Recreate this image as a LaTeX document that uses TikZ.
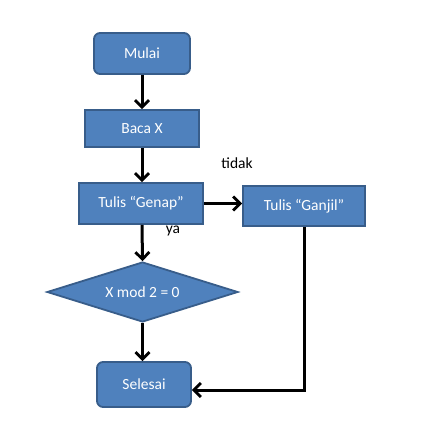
\documentclass[tikz,border=0pt]{standalone}
\usepackage{fontspec}
\setmainfont{Carlito}
\usetikzlibrary{shapes.geometric,arrows.meta}
\definecolor{boxfill}{HTML}{4F81BD}
\definecolor{boxline}{HTML}{385D8A}
\begin{document}
\begin{tikzpicture}[x=1pt,y=-1pt,
  base/.style={fill=boxfill,draw=boxline,line width=1.8pt,text=white,font=\fontsize{15.5}{18}\selectfont,inner sep=0pt},
  procbox/.style={base,rectangle,minimum width=#1},
  termbox/.style={base,rectangle,rounded corners=6pt},
  decbox/.style={base,diamond,aspect=3.2,minimum width=191pt,minimum height=60pt},
  flow/.style={line width=3pt,-{Straight Barb[length=7pt,width=14pt,line width=2.8pt]}},
  lbl/.style={font=\fontsize{15.5}{18}\selectfont,text=black}]
\useasboundingbox[fill=white] (0,0) rectangle (420,441);
\node[termbox,minimum width=96pt,minimum height=41pt] (mulai) at (142,53.5) {Mulai};
\node[procbox=114pt,minimum height=37pt] (baca) at (142,128.5) {Baca X};
\node[procbox=124pt,minimum height=41pt] (genap) at (141,203.5) {Tulis “Genap”};
\node[procbox=122pt,minimum height=40pt] (ganjil) at (304,206) {Tulis “Ganjil”};
\node[decbox] (dec) at (142.5,292) {X mod 2 = 0};
\node[termbox,minimum width=94pt,minimum height=45pt] (selesai) at (144,384.5) {Selesai};
\node[lbl] (tidak) at (237,163) {tidak};
\node[lbl] (ya) at (173,231) {ya};
\draw[flow] (mulai.south -| 142,0) -- (142,0 |- baca.north);
\draw[flow] (baca.south -| 142,0) -- (142,0 |- genap.north);
\draw[flow] (genap.east) -- (genap.east -| ganjil.west);
\draw[flow] (genap.south -| 142,0) -- (dec.north);
\draw[flow] (dec.south) -- (dec.south |- selesai.north);
\draw[flow,rounded corners=0pt] (ganjil.south) |- ([yshift=-5.5pt]selesai.east);
\end{tikzpicture}
\end{document}
